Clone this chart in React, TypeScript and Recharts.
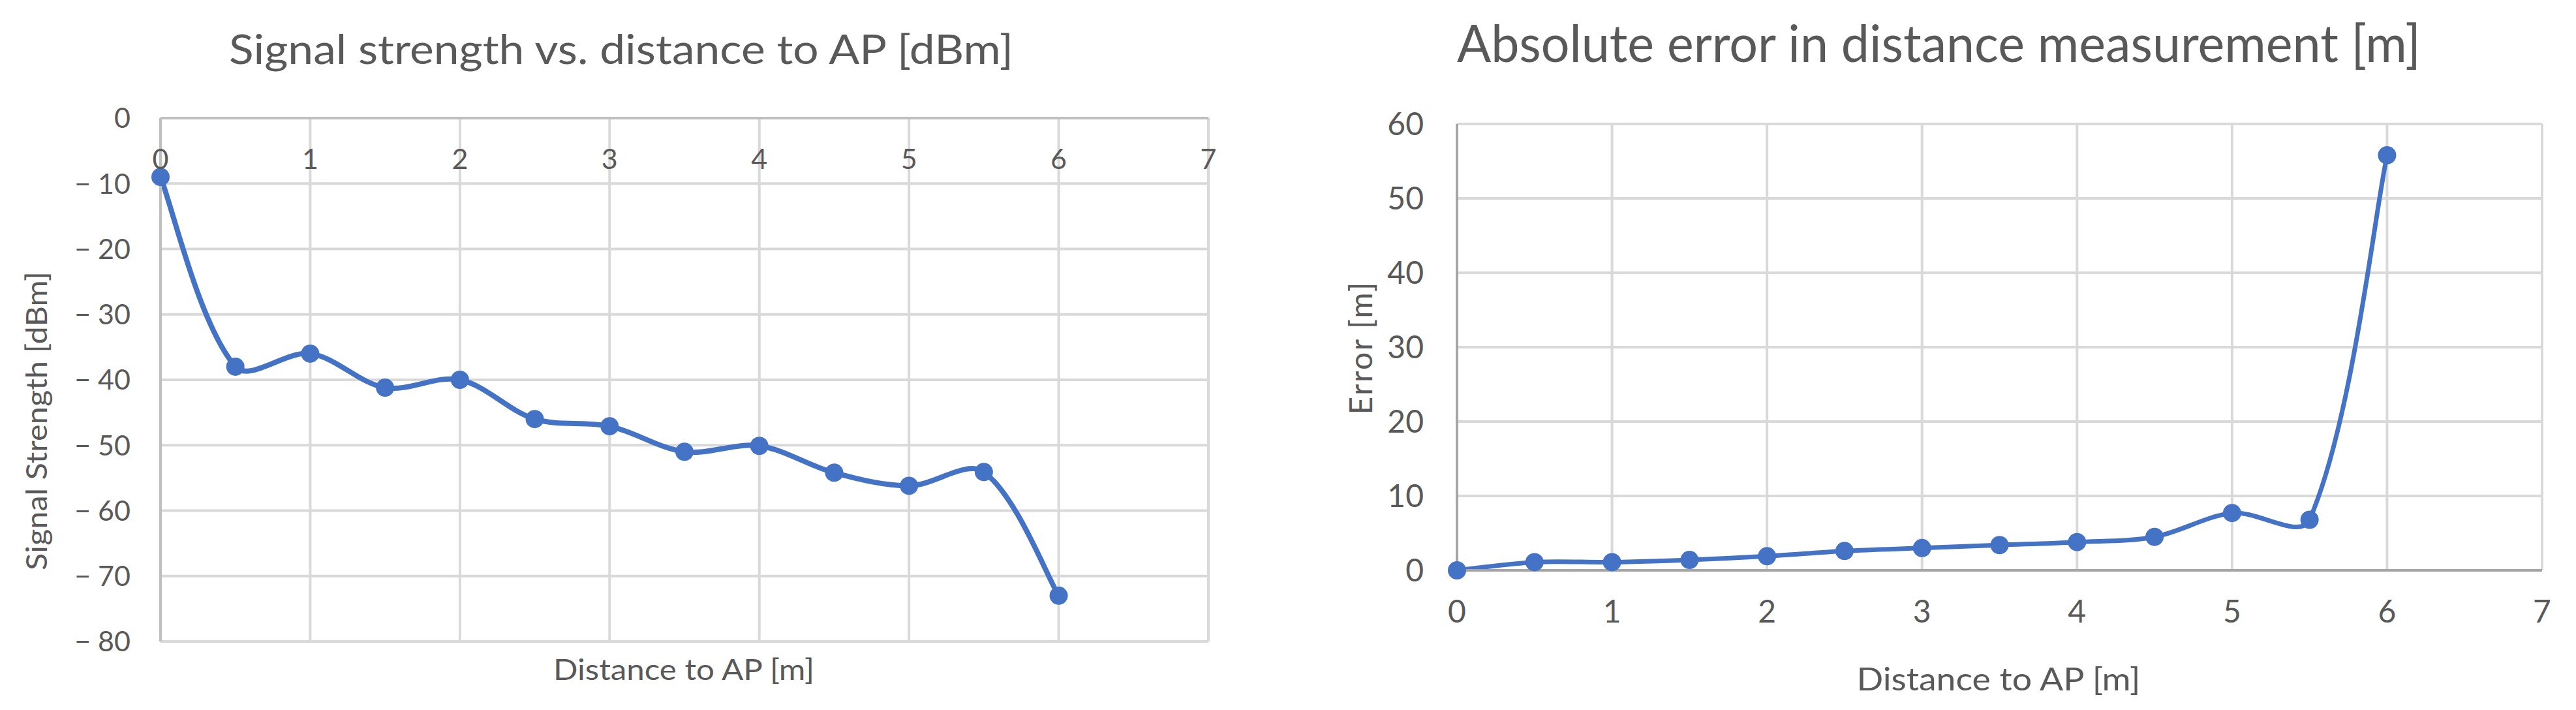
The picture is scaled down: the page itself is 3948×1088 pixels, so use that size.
import React from "react";
import { LineChart, Line, XAxis, YAxis, CartesianGrid } from "recharts";

// measured distance to the access point [m]
const distances = [0, 0.5, 1, 1.5, 2, 2.5, 3, 3.5, 4, 4.5, 5, 5.5, 6];
// left chart: signal strength [dBm]
const signalStrength = [-9, -38, -36, -41.2, -40, -46, -47.1, -51, -50.1, -54.2, -56.2, -54.1, -73];
// right chart: absolute error [m]
const absoluteError = [0, 1.1, 1.1, 1.4, 1.9, 2.6, 3.0, 3.4, 3.8, 4.5, 7.7, 6.8, 55.8];

const distanceTicks = [0, 1, 2, 3, 4, 5, 6, 7];
const signalTicks = [-80, -70, -60, -50, -40, -30, -20, -10, 0];
const errorTicks = [0, 10, 20, 30, 40, 50, 60];

const BLUE = "#4472C4";
const TEXT = "#595959";
const GRID = "#d9d9d9";
const FONT = "Lato, 'Open Sans', sans-serif";

const H = 1088;
const LEFT_W = 1900;
const LEFT_TOP = 181;
const RIGHT_X = 1974;
const RIGHT_W = 1974;

const dist = (a: number[], b: number[]) => Math.hypot(b[0] - a[0], b[1] - a[1]);

// Excel-like smoothed line: bezier segments, tangents weighted by segment length
const excelCurve = (context: any) => {
  let pts: number[][] = [];
  return {
    areaStart() {},
    areaEnd() {},
    lineStart() {
      pts = [];
    },
    point(x: number, y: number) {
      pts.push([+x, +y]);
    },
    lineEnd() {
      const n = pts.length;
      if (!n) return;
      context.moveTo(pts[0][0], pts[0][1]);
      for (let i = 0; i < n - 1; i++) {
        const p0 = pts[Math.max(i - 1, 0)];
        const p1 = pts[i];
        const p2 = pts[i + 1];
        const p3 = pts[Math.min(i + 2, n - 1)];
        const d01 = dist(p0, p1);
        const d12 = dist(p1, p2);
        const d23 = dist(p2, p3);
        const f1 = d01 > 0 ? d12 / (d01 + d12) / 3 : 1 / 6;
        const f2 = d23 > 0 ? d12 / (d12 + d23) / 3 : 1 / 6;
        context.bezierCurveTo(
          p1[0] + (p2[0] - p0[0]) * f1,
          p1[1] + (p2[1] - p0[1]) * f1,
          p2[0] - (p3[0] - p1[0]) * f2,
          p2[1] - (p3[1] - p1[1]) * f2,
          p2[0],
          p2[1]
        );
      }
    },
  };
};

const signalData = distances.map((d, i) => ({ distance: d, value: signalStrength[i] }));
const errorData = distances.map((d, i) => ({ distance: d, value: absoluteError[i] }));

const formatSignal = (v: number) => (v === 0 ? "0" : `\u2212 ${Math.abs(v)}`);

// x labels of the left chart sit just under the top axis line
const TopTick = (props: any) => (
  <text
    x={props.x}
    y={LEFT_TOP + 61}
    textAnchor="middle"
    dominantBaseline="central"
    fill={TEXT}
    fontSize={43}
    fontFamily={FONT}
  >
    {props.payload.value}
  </text>
);

const SignalChart = () => (
  <LineChart
    width={LEFT_W}
    height={H}
    data={signalData}
    margin={{ top: LEFT_TOP - 10, right: 48, bottom: 105, left: 0 }}
  >
    <CartesianGrid stroke={GRID} strokeWidth={4} />
    <XAxis
      dataKey="distance"
      type="number"
      orientation="top"
      height={10}
      domain={[0, 7]}
      ticks={distanceTicks}
      tickLine={false}
      axisLine={{ stroke: "#bfbfbf", strokeWidth: 4 }}
      tick={<TopTick />}
    />
    <YAxis
      type="number"
      width={246}
      domain={[-80, 0]}
      ticks={signalTicks}
      tickFormatter={formatSignal}
      tickLine={false}
      tickSize={0}
      tickMargin={46}
      axisLine={{ stroke: "#bfbfbf", strokeWidth: 4 }}
      tick={{ fill: TEXT, fontSize: 43, fontFamily: FONT }}
    />
    <Line
      dataKey="value"
      type={excelCurve as any}
      stroke={BLUE}
      strokeWidth={8}
      dot={{ r: 14, fill: BLUE, stroke: BLUE, strokeWidth: 0 }}
      activeDot={false}
      isAnimationActive={false}
    />
  </LineChart>
);

const ErrorChart = () => (
  <LineChart
    width={RIGHT_W}
    height={H}
    data={errorData}
    margin={{ top: 190, right: 52, bottom: 114, left: 0 }}
  >
    <CartesianGrid stroke={GRID} strokeWidth={4} />
    <XAxis
      dataKey="distance"
      type="number"
      height={100}
      domain={[0, 7]}
      ticks={distanceTicks}
      tickLine={false}
      tickSize={0}
      tickMargin={46}
      axisLine={{ stroke: "#a6a6a6", strokeWidth: 4 }}
      tick={{ fill: TEXT, fontSize: 48, fontFamily: FONT }}
    />
    <YAxis
      type="number"
      width={259}
      domain={[0, 60]}
      ticks={errorTicks}
      tickLine={false}
      tickSize={0}
      tickMargin={51}
      axisLine={{ stroke: "#a6a6a6", strokeWidth: 4 }}
      tick={{ fill: TEXT, fontSize: 48, fontFamily: FONT }}
    />
    <Line
      dataKey="value"
      type={excelCurve as any}
      stroke={BLUE}
      strokeWidth={7}
      dot={{ r: 14, fill: BLUE, stroke: BLUE, strokeWidth: 0 }}
      activeDot={false}
      isAnimationActive={false}
    />
  </LineChart>
);

const Titles = () => (
  <svg
    width={3948}
    height={H}
    style={{ position: "absolute", left: 0, top: 0, pointerEvents: "none" }}
    fontFamily={FONT}
    fill={TEXT}
  >
    <text x={952} y={98} fontSize={62} textAnchor="middle" textLength={1202} lengthAdjust="spacingAndGlyphs">
      Signal strength vs. distance to AP [dBm]
    </text>
    <text x={1048} y={1025} fontSize={44} textAnchor="middle" dominantBaseline="central" textLength={400} lengthAdjust="spacingAndGlyphs">
      Distance to AP [m]
    </text>
    <text
      x={55}
      y={645}
      fontSize={44}
      textAnchor="middle"
      dominantBaseline="central"
      transform="rotate(-90 55 645)"
      textLength={458}
      lengthAdjust="spacingAndGlyphs"
    >
      Signal Strength [dBm]
    </text>

    <text x={2233} y={95} fontSize={80} textLength={1477} lengthAdjust="spacingAndGlyphs">
      Absolute error in distance measurement [m]
    </text>
    <text x={3063} y={1039} fontSize={48} textAnchor="middle" dominantBaseline="central" textLength={435} lengthAdjust="spacingAndGlyphs">
      Distance to AP [m]
    </text>
    <text
      x={2084}
      y={534}
      fontSize={48}
      textAnchor="middle"
      dominantBaseline="central"
      transform="rotate(-90 2084 534)"
      textLength={203}
      lengthAdjust="spacing"
    >
      Error [m]
    </text>
  </svg>
);

export default function App() {
  return (
    <div
      style={{
        position: "absolute",
        left: 0,
        top: 0,
        width: 3948,
        height: H,
        background: "#fff",
        overflow: "hidden",
      }}
    >
      <div style={{ position: "absolute", left: 0, top: 0 }}>
        <SignalChart />
      </div>
      <div style={{ position: "absolute", left: RIGHT_X, top: 0 }}>
        <ErrorChart />
      </div>
      <Titles />
    </div>
  );
}
